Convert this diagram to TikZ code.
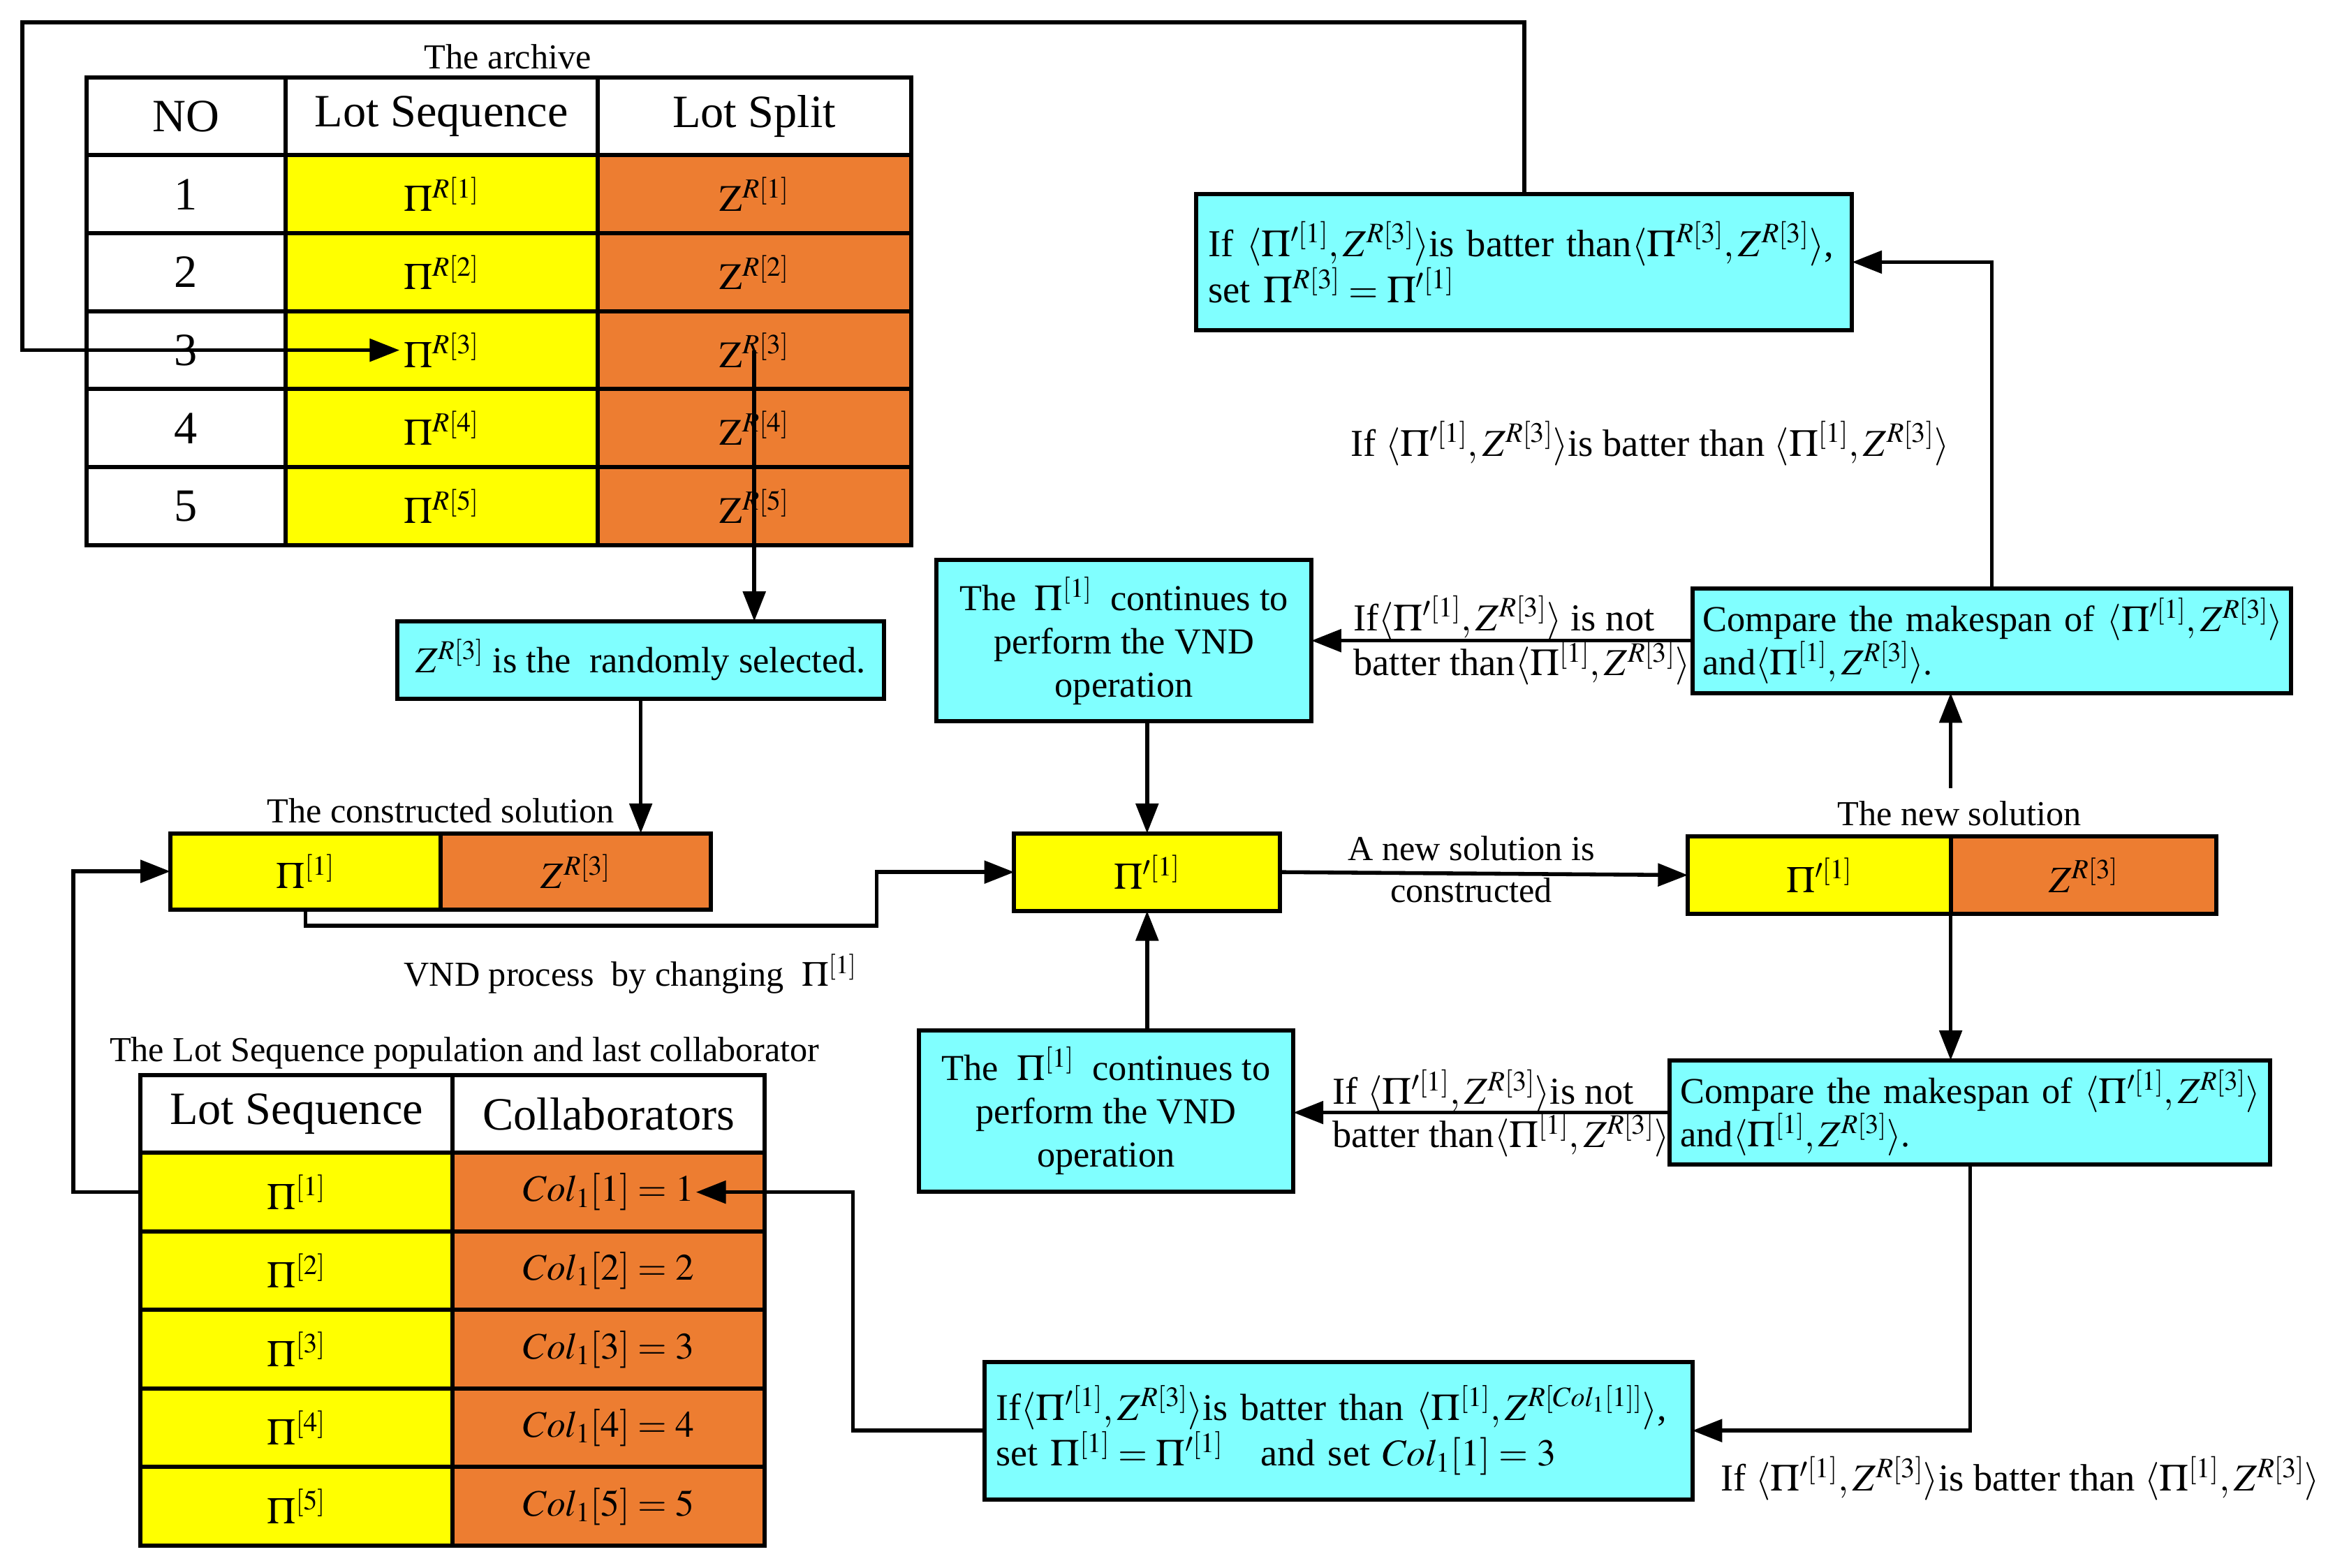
\documentclass[tikz,border=0pt]{standalone}
\usepackage{mathptmx}
\usepackage{fontspec}
\setmainfont{Liberation Serif}
\usetikzlibrary{arrows.meta}
\definecolor{yel}{HTML}{FFFF00}
\definecolor{org}{HTML}{ED7D31}
\definecolor{cyn}{HTML}{80FFFF}
\newcommand{\myfL}{\fontsize{23.5}{29}\selectfont}
\newcommand{\myfLM}{\fontsize{25.5}{29}\selectfont}
\newcommand{\myfB}{\fontsize{24.5}{29}\selectfont}
\newcommand{\myfH}{\fontsize{31}{36}\selectfont}
\newcommand{\myfM}{\fontsize{25}{30}\selectfont}
\begin{document}
\begin{tikzpicture}[x=1pt,y=-1pt,
  cell/.style={draw,line width=2.8pt,inner sep=0pt,outer sep=0pt,anchor=north west},
  cbox/.style={draw,fill=cyn,line width=2.8pt,anchor=north west,outer sep=0pt,inner xsep=8pt,inner ysep=0pt,font=\myfB,align=left},
  lab/.style={font=\myfL,inner sep=0pt},
  labm/.style={font=\myfLM,inner sep=0pt,anchor=west},
  arr/.style={line width=2.6pt,-{Triangle[length=20pt,width=15pt]}}]
\fill[white] (0,0) rectangle (1568,1050);
\useasboundingbox (0,0) rectangle (1568,1050);

% ---------- archive table ----------
\node[lab] (archlab) at (340,38) {The archive};
\node[cell,minimum width=133,minimum height=52,font=\myfH] (hno) at (58,52) {NO};
\node[cell,minimum width=209,minimum height=52,font=\myfH] (hls) at (191,52) {Lot Sequence};
\node[cell,minimum width=210,minimum height=52,font=\myfH] (hsp) at (400,52) {Lot Split};
\foreach \i in {1,...,5}{
  \pgfmathsetmacro\yy{104+(\i-1)*52.2}
  \node[cell,minimum width=133,minimum height=52.2,font=\myfH] (no\i) at (58,\yy) {\i};
  \node[cell,fill=yel,minimum width=209,minimum height=52.2,font=\myfM] (ps\i) at (191,\yy) {$\Pi^{R[\i]}$};
  \node[cell,fill=org,minimum width=210,minimum height=52.2,font=\myfM] (zs\i) at (400,\yy) {$\mathrm{Z}^{R[\i]}$};
}

% ---------- lower table ----------
\node[lab] (poplab) at (311,705) {The Lot Sequence population and last collaborator};
\node[cell,minimum width=209,minimum height=52,font=\myfH] (lh1) at (94,720) {Lot Sequence};
\node[cell,minimum width=209,minimum height=52,font=\myfH] (lh2) at (303,720) {Collaborators};
\foreach \i in {1,...,5}{
  \pgfmathsetmacro\yy{772+(\i-1)*52.6}
  \node[cell,fill=yel,minimum width=209,minimum height=52.6,font=\myfM] (lp\i) at (94,\yy) {$\Pi^{[\i]}$};
  \node[cell,fill=org,minimum width=209,minimum height=52.6,font=\myfM] (lc\i) at (303,\yy) {$Col_1[\i]=\i$};
}

% ---------- constructed solution ----------
\node[lab] (conslab) at (295,543) {The constructed solution};
\node[cell,fill=yel,minimum width=181,minimum height=51,font=\myfM] (consP) at (114,558) {$\Pi^{[1]}$};
\node[cell,fill=org,minimum width=181,minimum height=51,font=\myfM] (consZ) at (295,558) {$Z^{R[3]}$};

% ---------- randomly selected ----------
\node[cbox,minimum width=326,minimum height=52,align=center] (rand) at (266,416) {$Z^{R[3]}$ is the\ \ randomly selected.};

% ---------- Pi' ----------
\node[cell,fill=yel,minimum width=178,minimum height=52,font=\myfM] (pip) at (679,558) {$\Pi'^{[1]}$};

% ---------- continue boxes ----------
\node[cbox,minimum width=251,minimum height=108,align=center] (cont1) at (627,375) {The\ \ $\Pi^{[1]}$\ \ continues to\\perform the VND\\operation};
\node[cbox,minimum width=251,minimum height=108,align=center] (cont2) at (615,690) {The\ \ $\Pi^{[1]}$\ \ continues to\\perform the VND\\operation};

% ---------- new solution ----------
\node[lab] (newlab) at (1312,545) {The new solution};
\node[cell,fill=yel,minimum width=176,minimum height=52,font=\myfM] (newP) at (1130,560) {$\Pi'^{[1]}$};
\node[cell,fill=org,minimum width=178,minimum height=52,font=\myfM] (newZ) at (1306,560) {$Z^{R[3]}$};

% ---------- decision boxes ----------
\node[cbox,text width=423,minimum height=91,font=\fontsize{25.5}{29}\selectfont] (top) at (801,130) {\mbox{If $\langle\Pi'^{[1]},Z^{R[3]}\rangle$is batter than$\langle\Pi^{R[3]},Z^{R[3]}\rangle$,}\\\mbox{set $\Pi^{R[3]}=\Pi'^{[1]}$}};
\node[cbox,text width=387,minimum height=70,inner xsep=7pt] (cmp1) at (1133,394) {\mbox{Compare the makespan of $\langle\Pi'^{[1]},Z^{R[3]}\rangle$}\\\mbox{and$\langle\Pi^{[1]},Z^{R[3]}\rangle$.}};
\node[cbox,text width=388,minimum height=70,inner xsep=7pt] (cmp2) at (1118,710) {\mbox{Compare the makespan of $\langle\Pi'^{[1]},Z^{R[3]}\rangle$}\\\mbox{and$\langle\Pi^{[1]},Z^{R[3]}\rangle$.}};
\node[cbox,text width=458,minimum height=92,font=\fontsize{25.3}{29}\selectfont] (bot) at (659,912) {\mbox{If$\langle\Pi'^{[1]},Z^{R[3]}\rangle$is batter than $\langle\Pi^{[1]},Z^{R[Col_1[1]]}\rangle$,}\\\mbox{set $\Pi^{[1]}=\Pi'^{[1]}$\ \ \ and set $Col_1[1]=3$}};

% ---------- coordinates ----------
\coordinate (ytop) at (0,15);
\coordinate (xa) at (15,0);
\coordinate (xl) at (49,0);
\coordinate (xb) at (571,0);
\coordinate (tA) at ([xshift=-28]ps3.center);
\coordinate (tB) at ([xshift=-46]lc1.east);
\coordinate (s1) at (1306,528);

% ---------- connectors ----------
\draw[arr] (top.north) -- (top.north |- ytop) -- (xa |- ytop) -- (xa |- tA) -- (tA);
\draw[arr] (zs3.center) -- (zs3.center |- rand.north);
\draw[arr] (rand.south) -- (rand.south |- consZ.north);
\draw[arr] (consP.south) |- (587,620) |- (pip.west);
\draw[arr] (lp1.west) -- (lp1.west -| xl) |- (consP.west);
\draw[arr] (cont1.south -| pip.north) -- (pip.north);
\draw[arr] (cont2.north -| pip.south) -- (pip.south);
\draw[arr] (pip.east) -- (newP.west);
\draw[arr] (s1) -- (s1 |- cmp1.south);
\draw[arr] (newP.south east) -- (newP.south east |- cmp2.north);
\draw[arr] (cmp1.west) -- (cmp1.west -| cont1.east);
\draw[arr] (cmp1.north) |- (top.east);
\draw[arr] (cmp2.west) -- (cmp2.west -| cont2.east);
\draw[arr] (cmp2.south) |- (bot.east);
\draw[arr] (bot.west) -| (xb |- tB) -- (tB);

% ---------- connector labels ----------
\node[labm] (lup) at (904,297) {If $\langle\Pi'^{[1]},Z^{R[3]}\rangle$is batter than $\langle\Pi^{[1]},Z^{R[3]}\rangle$};
\node[labm] (l1a) at (906,414) {If$\langle\Pi'^{[1]},Z^{R[3]}\rangle$ is not};
\node[labm] (l1b) at (906,444) {batter than$\langle\Pi^{[1]},Z^{R[3]}\rangle$};
\node[labm] (l2a) at (892,731) {If $\langle\Pi'^{[1]},Z^{R[3]}\rangle$is not};
\node[labm] (l2b) at (892,760) {batter than$\langle\Pi^{[1]},Z^{R[3]}\rangle$};
\node[labm] (ldown) at (1152,990) {If $\langle\Pi'^{[1]},Z^{R[3]}\rangle$is batter than $\langle\Pi^{[1]},Z^{R[3]}\rangle$};
\node[lab] (lnew1) at (985,568) {A new solution is};
\node[lab] (lnew2) at (985,596) {constructed};
\node[lab] (lvnd) at (422,652) {VND process\ \ by changing\ \ $\Pi^{[1]}$};
\end{tikzpicture}
\end{document}
